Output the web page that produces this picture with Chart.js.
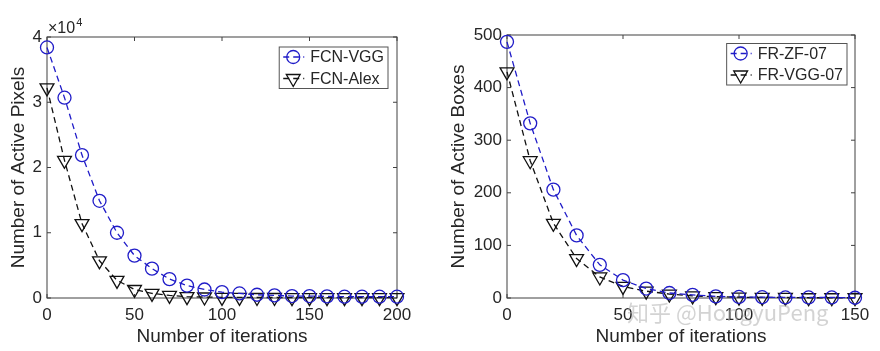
<!DOCTYPE html>
<html>
<head>
<meta charset="utf-8">
<script src="https://cdn.jsdelivr.net/npm/chart.js@4.4.0/dist/chart.umd.min.js"></script>
<style>
    html, body { margin: 0; padding: 0; background: #fff; }
    #wrap { display: flex; width: 880px; height: 351px; }
    canvas { display: block; }
</style>
</head>
<body>
<div id="wrap">
    <canvas id="chartPixels" width="440" height="351"></canvas>
    <canvas id="chartBoxes" width="440" height="351"></canvas>
</div>
<script>
// data (left: FCN, right: Faster R-CNN)
const iterPixels = [0, 10, 20, 30, 40, 50, 60, 70, 80, 90, 100, 110, 120, 130, 140, 150, 160, 170, 180, 190, 200];
const fcnVgg = [38400, 30700, 21900, 14900, 10000, 6500, 4500, 2900, 1900, 1300, 900, 700, 500, 400, 300, 300, 250, 200, 200, 200, 200];
const fcnAlex = [32200, 21100, 11400, 5700, 2700, 1300, 700, 400, 200, 150, 100, 100, 80, 80, 60, 60, 50, 50, 50, 50, 50];

const iterBoxes = [0, 10, 20, 30, 40, 50, 60, 70, 80, 90, 100, 110, 120, 130, 140, 150];
const frZf = [487, 332, 206, 119, 63, 34, 18, 9.5, 6, 3, 2, 1.5, 1, 1, 1, 0.5];
const frVgg = [430, 261, 142, 75, 40, 22, 13, 7.5, 4, 2.5, 1.5, 1, 1, 0.5, 0.5, 0.5];

const FONT = "'Liberation Sans', Arial, Helvetica, sans-serif";
const TEXT = "#262626";
const AXIS = "#404040";
const BLUE = "rgb(32, 28, 200)";
const BLACK = "#111111";

const toPoints = (xs, ys) => xs.map((x, i) => ({ x: x, y: ys[i] }));

const makeDataset = (label, xs, ys, color, style) => ({
    label: label,
    data: toPoints(xs, ys),
    borderColor: color,
    borderWidth: 1.3,
    borderDash: [6, 4],
    pointStyle: style,
    pointRotation: style === "triangle" ? 180 : 0,
    pointRadius: style === "triangle" ? 8 : 6.5,
    pointBorderWidth: 1.3,
    pointBorderColor: color,
    pointBackgroundColor: "rgba(0,0,0,0)",
    tension: 0,
    clip: false,
});

// box around the axes with inward ticks, plus legend inside the plot
const matlabLook = {
    id: "matlabLook",
    beforeDatasetsDraw(chart) {
        const { ctx, chartArea: a, scales } = chart;
        const len = 4;
        ctx.save();
        ctx.strokeStyle = AXIS;
        ctx.lineWidth = 1;
        ctx.strokeRect(a.left, a.top, a.right - a.left, a.bottom - a.top);
        ctx.beginPath();
        scales.x.ticks.forEach(t => {
            const px = scales.x.getPixelForValue(t.value);
            ctx.moveTo(px, a.bottom); ctx.lineTo(px, a.bottom - len);
            ctx.moveTo(px, a.top); ctx.lineTo(px, a.top + len);
        });
        scales.y.ticks.forEach(t => {
            const py = scales.y.getPixelForValue(t.value);
            ctx.moveTo(a.left, py); ctx.lineTo(a.left + len, py);
            ctx.moveTo(a.right, py); ctx.lineTo(a.right - len, py);
        });
        ctx.stroke();
        ctx.restore();
    },
    afterDraw(chart, args, opts) {
        const { ctx, chartArea: a } = chart;
        ctx.save();
        // exponent label
        if (opts.exponent) {
            ctx.fillStyle = TEXT;
            ctx.textBaseline = "alphabetic";
            ctx.font = "16px " + FONT;
            ctx.fillText("\u00d710", a.left + 1, a.top - 4);
            const w = ctx.measureText("\u00d710").width;
            ctx.font = "11px " + FONT;
            ctx.fillText(opts.exponent, a.left + 1 + w + 1, a.top - 11);
        }
        // legend
        ctx.font = "16px " + FONT;
        const sets = chart.data.datasets;
        const textW = Math.max(...sets.map(d => ctx.measureText(d.label).width));
        const boxW = 31 + textW + 4;
        const rowH = 21.5;
        const boxH = 20 + rowH * (sets.length - 1);
        const bx = a.right - opts.insetRight - boxW;
        const by = a.top + opts.insetTop;
        ctx.fillStyle = "#fff";
        ctx.fillRect(bx, by, boxW, boxH);
        ctx.strokeStyle = "#555";
        ctx.lineWidth = 1;
        ctx.strokeRect(bx, by, boxW, boxH);
        sets.forEach((d, i) => {
            const y = by + 10 + i * rowH;
            ctx.strokeStyle = d.borderColor;
            ctx.lineWidth = d.borderWidth;
            ctx.setLineDash(d.borderDash);
            ctx.beginPath();
            ctx.moveTo(bx + 4, y);
            ctx.lineTo(bx + 25, y);
            ctx.stroke();
            ctx.setLineDash([]);
            ctx.fillStyle = "rgba(0,0,0,0)";
            Chart.helpers.drawPoint(ctx, {
                pointStyle: d.pointStyle,
                rotation: d.pointRotation,
                radius: d.pointRadius,
                borderWidth: d.pointBorderWidth
            }, bx + 14, y);
            ctx.fillStyle = TEXT;
            ctx.textBaseline = "middle";
            ctx.fillText(d.label, bx + 31, y + 1);
        });
        // watermark
        if (opts.watermark) {
            ctx.font = "22px 'Noto Sans CJK SC', " + FONT;
            ctx.fillStyle = "rgba(175, 175, 175, 0.55)";
            ctx.textBaseline = "middle";
            ctx.fillText(opts.watermark, 187, 313);
        }
        ctx.restore();
    }
};

const buildChart = (canvasId, cfg) => new Chart(document.getElementById(canvasId), {
    type: "line",
    data: { datasets: cfg.datasets },
    options: {
        responsive: false,
        animation: false,
        layout: { padding: cfg.padding },
        plugins: {
            legend: { display: false },
            tooltip: { enabled: false },
            matlabLook: cfg.look
        },
        scales: {
            x: {
                type: "linear",
                min: 0,
                max: cfg.xMax,
                grid: { display: false, drawTicks: false },
                border: { display: false },
                ticks: { stepSize: 50, padding: 7, color: TEXT, font: { family: FONT, size: 17 } },
                title: { display: true, text: "Number of iterations", color: TEXT, padding: { top: 0, bottom: 3 }, font: { family: FONT, size: 19 } },
                afterFit: s => { s.height = 53; }
            },
            y: {
                min: 0,
                max: cfg.yMax,
                grid: { display: false, drawTicks: false },
                border: { display: false },
                ticks: { stepSize: cfg.yStep, padding: 5, color: TEXT, font: { family: FONT, size: 17 }, callback: cfg.yFormat },
                title: { display: true, text: cfg.yTitle, color: TEXT, padding: { top: 7, bottom: 0 }, font: { family: FONT, size: 19 } },
                afterFit: s => { s.width = cfg.yWidth; }
            }
        }
    },
    plugins: [matlabLook]
});

buildChart("chartPixels", {
    datasets: [
        makeDataset("FCN-VGG", iterPixels, fcnVgg, BLUE, "circle"),
        makeDataset("FCN-Alex", iterPixels, fcnAlex, BLACK, "triangle")
    ],
    padding: { top: 37, right: 43, left: 0, bottom: 0 },
    xMax: 200,
    yMax: 40000,
    yStep: 10000,
    yFormat: v => v / 10000,
    yTitle: "Number of Active Pixels",
    yWidth: 47,
    look: { insetRight: 9, insetTop: 10, exponent: "4" }
});

buildChart("chartBoxes", {
    datasets: [
        makeDataset("FR-ZF-07", iterBoxes, frZf, BLUE, "circle"),
        makeDataset("FR-VGG-07", iterBoxes, frVgg, BLACK, "triangle")
    ],
    padding: { top: 35, right: 25, left: 0, bottom: 0 },
    xMax: 150,
    yMax: 500,
    yStep: 100,
    yFormat: v => v,
    yTitle: "Number of Active Boxes",
    yWidth: 67,
    look: { insetRight: 8, insetTop: 8.5, watermark: "\u77e5\u4e4e @HongyuPeng" }
});
</script>
</body>
</html>
